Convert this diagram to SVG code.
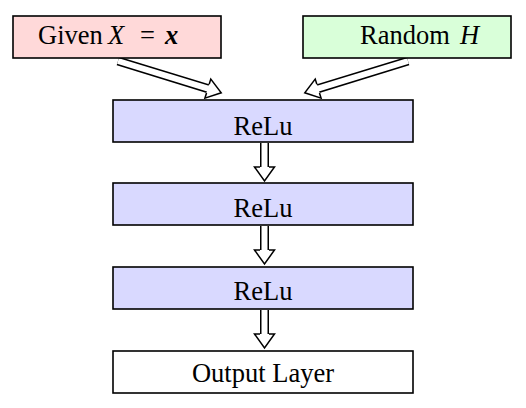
<svg xmlns="http://www.w3.org/2000/svg" width="526" height="408" viewBox="0 0 526 408">
<style>
.box{stroke:#000;stroke-width:1.6}
.t{font-family:"Liberation Serif","Times New Roman",serif;font-size:26.5px;fill:#000}
.sb{stroke:#000;stroke-width:9;fill:none}
.sw{stroke:#fff;stroke-width:6;fill:none}
.hd{fill:#fff;stroke:#000;stroke-width:1.5;stroke-linejoin:miter}
</style>
<defs>
<g id="arr38">
<line class="sb" x1="0" y1="0" x2="24" y2="0"/>
<path class="hd" d="M24,-4.5 L24,-10 L38,0 L24,10 L24,4.5"/>
<line class="sw" x1="0" y1="0" x2="25" y2="0"/>
</g>
<g id="arr108">
<line class="sb" x1="0" y1="0" x2="94" y2="0"/>
<path class="hd" d="M94,-4.5 L94,-10 L108,0 L94,10 L94,4.5"/>
<line class="sw" x1="0" y1="0" x2="95" y2="0"/>
</g>
</defs>
<rect width="526" height="408" fill="#fff"/>
<g id="connectors">
<use href="#arr108" transform="translate(118,61) rotate(17.1)"/>
<use href="#arr108" transform="translate(408,61) rotate(162.9)"/>
<use href="#arr38" transform="translate(264.5,143) rotate(90)"/>
<use href="#arr38" transform="translate(264.5,226) rotate(90)"/>
<use href="#arr38" transform="translate(264.5,310) rotate(90)"/>
</g>
<g id="given">
<rect class="box" x="13" y="16" width="208" height="42" fill="#ffd9d9"/>
<text class="t" y="44"><tspan x="38">Given</tspan><tspan x="108" font-style="italic">X</tspan><tspan x="140">=</tspan><tspan x="165" font-style="italic" font-weight="bold">x</tspan></text>
</g>
<g id="random">
<rect class="box" x="303" y="16" width="208" height="42" fill="#d9ffd9"/>
<text class="t" y="44"><tspan x="360">Random</tspan><tspan x="460" font-style="italic">H</tspan></text>
</g>
<g id="relu1">
<rect class="box" x="113" y="100" width="300" height="42" fill="#d9d9ff"/>
<text class="t" x="263" y="135" text-anchor="middle">ReLu</text>
</g>
<g id="relu2">
<rect class="box" x="113" y="183" width="300" height="42" fill="#d9d9ff"/>
<text class="t" x="263" y="217" text-anchor="middle">ReLu</text>
</g>
<g id="relu3">
<rect class="box" x="113" y="267" width="300" height="42" fill="#d9d9ff"/>
<text class="t" x="263" y="300" text-anchor="middle">ReLu</text>
</g>
<g id="output">
<rect class="box" x="113" y="351" width="300" height="42" fill="#fff"/>
<text class="t" x="263" y="382" text-anchor="middle">Output Layer</text>
</g>
</svg>
